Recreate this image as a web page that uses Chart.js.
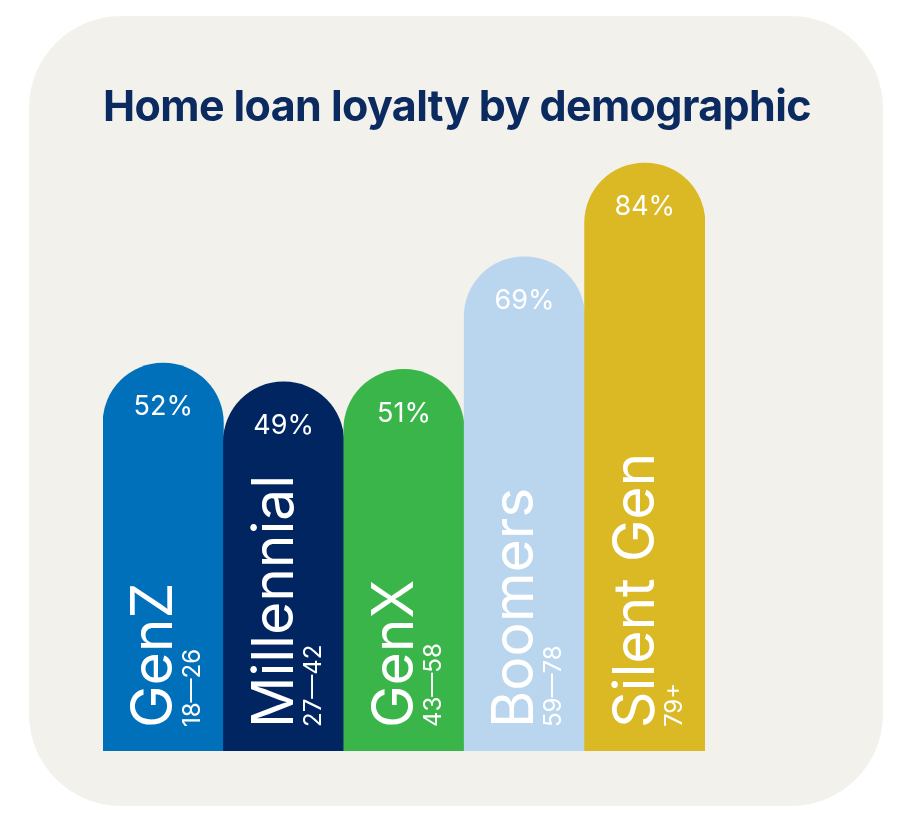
<!DOCTYPE html>
<html><head><meta charset="utf-8">
<style>html,body{margin:0;padding:0;background:#ffffff;}#wrap{width:909px;height:821px;}</style>
<script src="https://cdn.jsdelivr.net/npm/chart.js@4.4.1/dist/chart.umd.min.js"></script>
</head><body><div id="wrap"><canvas id="c" width="909" height="821"></canvas></div>
<script>
const chartTitle = "Home loan loyalty by demographic";
const categories = ["GenZ", "Millennial", "GenX", "Boomers", "Silent Gen"];
const ageRanges = ["18\u201426", "27\u201442", "43\u201458", "59\u201478", "79+"];
const loyaltyPct = [52, 49, 51, 69, 84];
const barColors = ["#0070bb", "#002561", "#3ab54a", "#bad5ee", "#dbb925"];

const FONT = "Inter, 'Open Sans', 'DejaVu Sans', sans-serif";

const backgroundPlugin = {
  id: 'cardBg',
  beforeDraw(chart) {
    const ctx = chart.ctx;
    ctx.save();
    ctx.fillStyle = '#ffffff';
    ctx.fillRect(0, 0, chart.width, chart.height);
    ctx.fillStyle = '#f2f1ec';
    ctx.beginPath();
    ctx.roundRect(29, 16, 854, 790, 92);
    ctx.fill();
    ctx.restore();
  }
};

const titlePlugin = {
  id: 'cardTitle',
  afterDraw(chart) {
    const ctx = chart.ctx;
    ctx.save();
    ctx.fillStyle = '#0b2a60';
    ctx.font = "bold 43px " + FONT;
    ctx.letterSpacing = "-0.6px";
    ctx.textAlign = 'center';
    ctx.textBaseline = 'alphabetic';
    ctx.fillText(chartTitle, 457, 121);
    ctx.restore();
  }
};

const labelsPlugin = {
  id: 'barLabels',
  afterDatasetsDraw(chart) {
    const ctx = chart.ctx;
    const meta = chart.getDatasetMeta(0);
    meta.data.forEach((bar, i) => {
      const x = bar.x, top = bar.y, base = bar.base;
      ctx.save();
      ctx.fillStyle = '#ffffff';
      ctx.font = "400 27px " + FONT;
      ctx.textAlign = 'center';
      ctx.textBaseline = 'middle';
      ctx.fillText(loyaltyPct[i] + '%', x, top + 44);
      ctx.restore();

      ctx.save();
      ctx.fillStyle = '#ffffff';
      ctx.translate(x + 9, base - 23);
      ctx.rotate(-Math.PI / 2);
      ctx.font = "400 57px " + FONT;
      ctx.textAlign = 'left';
      ctx.textBaseline = 'alphabetic';
      ctx.fillText(categories[i], 0, 0);
      ctx.restore();

      ctx.save();
      ctx.fillStyle = '#ffffff';
      ctx.translate(x + 37, base - 24);
      ctx.rotate(-Math.PI / 2);
      ctx.font = "400 24px " + FONT;
      ctx.textAlign = 'left';
      ctx.textBaseline = 'alphabetic';
      ctx.fillText(ageRanges[i], 0, 0);
      ctx.restore();
    });
  }
};

new Chart(document.getElementById('c'), {
  type: 'bar',
  data: {
    labels: categories,
    datasets: [{
      data: loyaltyPct,
      backgroundColor: barColors,
      borderWidth: 0,
      base: -10,
      borderRadius: { topLeft: 60, topRight: 60, bottomLeft: 0, bottomRight: 0 },
      borderSkipped: 'start',
      categoryPercentage: 1,
      barPercentage: 1
    }]
  },
  options: {
    responsive: false,
    animation: false,
    devicePixelRatio: 1,
    layout: { padding: { left: 103, right: 204, top: 138, bottom: 70 } },
    plugins: { legend: { display: false }, tooltip: { enabled: false }, title: { display: false } },
    scales: {
      x: { display: false, grid: { display: false } },
      y: { display: false, min: -10, max: 88, grid: { display: false } }
    }
  },
  plugins: [backgroundPlugin, titlePlugin, labelsPlugin]
});
</script>
</body></html>
